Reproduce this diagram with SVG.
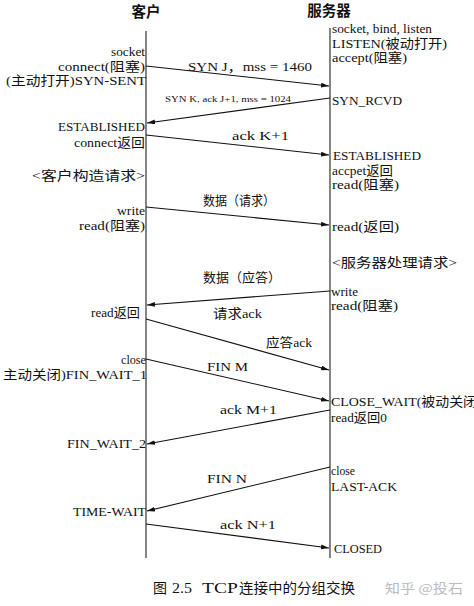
<svg xmlns="http://www.w3.org/2000/svg" width="474" height="606" viewBox="0 0 474 606">
<style>
text{font-family:"Liberation Serif","Noto Sans CJK SC",serif;font-size:13px;fill:#111}
.l{text-anchor:end}
.h{font-size:14.5px;font-weight:bold;text-anchor:middle}
.s{font-size:8px}
.sm{font-size:11.5px}
.life{stroke:#333;stroke-width:1.2}
.msg{stroke:#111;stroke-width:1.1;fill:none;marker-end:url(#ah)}
.wm{fill:#bbb;font-family:"Noto Sans CJK SC",sans-serif;font-size:13px}
.cap{font-size:14px}
</style>
<defs>
<marker id="ah" viewBox="0 0 10 6" refX="10" refY="3" markerWidth="8" markerHeight="5" markerUnits="userSpaceOnUse" orient="auto">
<path d="M0,0 L10,3 L0,6 Z" fill="#111"/>
</marker>
</defs>
<g id="client">
<text class="h" x="146" y="17">客户</text>
<line class="life" x1="146" y1="31" x2="146" y2="558"/>
<text class="l" x="145" y="56" textLength="34" lengthAdjust="spacingAndGlyphs">socket</text>
<text class="l" x="145" y="71" textLength="87" lengthAdjust="spacingAndGlyphs">connect(阻塞)</text>
<text class="l" x="146" y="85" textLength="140" lengthAdjust="spacingAndGlyphs">(主动打开)SYN-SENT</text>
<text class="l" x="145" y="131" textLength="87" lengthAdjust="spacingAndGlyphs">ESTABLISHED</text>
<text class="l" x="145" y="147" textLength="71" lengthAdjust="spacingAndGlyphs">connect返回</text>
<text class="l" x="145" y="180" textLength="113" lengthAdjust="spacingAndGlyphs">&lt;客户构造请求&gt;</text>
<text class="l" x="145" y="215" textLength="28" lengthAdjust="spacingAndGlyphs">write</text>
<text class="l" x="145" y="230" textLength="66" lengthAdjust="spacingAndGlyphs">read(阻塞)</text>
<text class="l" x="140" y="317" textLength="49" lengthAdjust="spacingAndGlyphs">read返回</text>
<text class="l" x="146" y="364" textLength="25" lengthAdjust="spacingAndGlyphs">close</text>
<text class="l" x="147" y="379" textLength="144" lengthAdjust="spacingAndGlyphs">主动关闭)FIN_WAIT_1</text>
<text class="l" x="146" y="448" textLength="79" lengthAdjust="spacingAndGlyphs">FIN_WAIT_2</text>
<text class="l" x="146" y="516" textLength="73" lengthAdjust="spacingAndGlyphs">TIME-WAIT</text>
</g>
<g id="server">
<text class="h" x="329" y="16">服务器</text>
<line class="life" x1="330" y1="28" x2="330" y2="558"/>
<text x="332" y="33" textLength="100" lengthAdjust="spacingAndGlyphs">socket, bind, listen</text>
<text x="332" y="48" textLength="115" lengthAdjust="spacingAndGlyphs">LISTEN(被动打开)</text>
<text x="332" y="62" textLength="75" lengthAdjust="spacingAndGlyphs">accept(阻塞)</text>
<text x="332" y="105" textLength="70" lengthAdjust="spacingAndGlyphs">SYN_RCVD</text>
<text x="333" y="160" textLength="88" lengthAdjust="spacingAndGlyphs">ESTABLISHED</text>
<text x="332" y="175" textLength="61" lengthAdjust="spacingAndGlyphs">accpet返回</text>
<text x="332" y="189" textLength="67" lengthAdjust="spacingAndGlyphs">read(阻塞)</text>
<text x="332" y="231" textLength="67" lengthAdjust="spacingAndGlyphs">read(返回)</text>
<text x="332" y="267" textLength="125" lengthAdjust="spacingAndGlyphs">&lt;服务器处理请求&gt;</text>
<text x="331" y="296" textLength="27" lengthAdjust="spacingAndGlyphs">write</text>
<text x="331" y="310" textLength="67" lengthAdjust="spacingAndGlyphs">read(阻塞)</text>
<text x="331" y="406" textLength="146" lengthAdjust="spacingAndGlyphs">CLOSE_WAIT(被动关闭</text>
<text x="331" y="422" textLength="56" lengthAdjust="spacingAndGlyphs">read返回0</text>
<text class="sm" x="331" y="475" textLength="24" lengthAdjust="spacingAndGlyphs">close</text>
<text x="331" y="491" textLength="66" lengthAdjust="spacingAndGlyphs">LAST-ACK</text>
<text x="334" y="553" textLength="48" lengthAdjust="spacingAndGlyphs">CLOSED</text>
</g>
<g id="connectors">
<line class="msg" x1="146" y1="66" x2="329" y2="86"/>
<line class="msg" x1="330" y1="98" x2="147" y2="123"/>
<line class="msg" x1="146" y1="135" x2="329" y2="155"/>
<line class="msg" x1="146" y1="207" x2="329" y2="225"/>
<line class="msg" x1="330" y1="291" x2="147" y2="305"/>
<line class="msg" x1="146" y1="319" x2="329" y2="370"/>
<line class="msg" x1="146" y1="359" x2="329" y2="401"/>
<line class="msg" x1="330" y1="410" x2="147" y2="444"/>
<line class="msg" x1="330" y1="467" x2="147" y2="511"/>
<line class="msg" x1="146" y1="524" x2="329" y2="548"/>
<text x="188" y="71" textLength="124" lengthAdjust="spacingAndGlyphs">SYN J，mss = 1460</text>
<text class="s" x="165" y="102" textLength="126" lengthAdjust="spacingAndGlyphs">SYN K, ack J+1, mss = 1024</text>
<text x="232" y="140" textLength="57" lengthAdjust="spacingAndGlyphs">ack K+1</text>
<text x="203" y="205" textLength="72" lengthAdjust="spacingAndGlyphs">数据（请求）</text>
<text x="203" y="282" textLength="78" lengthAdjust="spacingAndGlyphs">数据（应答）</text>
<text x="213" y="318" textLength="49" lengthAdjust="spacingAndGlyphs">请求ack</text>
<text x="266" y="347" textLength="46" lengthAdjust="spacingAndGlyphs">应答ack</text>
<text x="207" y="371" textLength="41" lengthAdjust="spacingAndGlyphs">FIN M</text>
<text x="220" y="414" textLength="57" lengthAdjust="spacingAndGlyphs">ack M+1</text>
<text x="207" y="483" textLength="40" lengthAdjust="spacingAndGlyphs">FIN N</text>
<text x="220" y="529" textLength="56" lengthAdjust="spacingAndGlyphs">ack N+1</text>
</g>
<text class="cap" y="593"><tspan x="153">图</tspan> <tspan x="172" textLength="20" lengthAdjust="spacingAndGlyphs">2.5</tspan> <tspan x="202" textLength="35" lengthAdjust="spacingAndGlyphs">TCP</tspan> <tspan x="239" textLength="116" lengthAdjust="spacingAndGlyphs">连接中的分组交换</tspan></text>
<text class="wm" x="385" y="593" textLength="78" lengthAdjust="spacingAndGlyphs">知乎 @投石</text>
</svg>
